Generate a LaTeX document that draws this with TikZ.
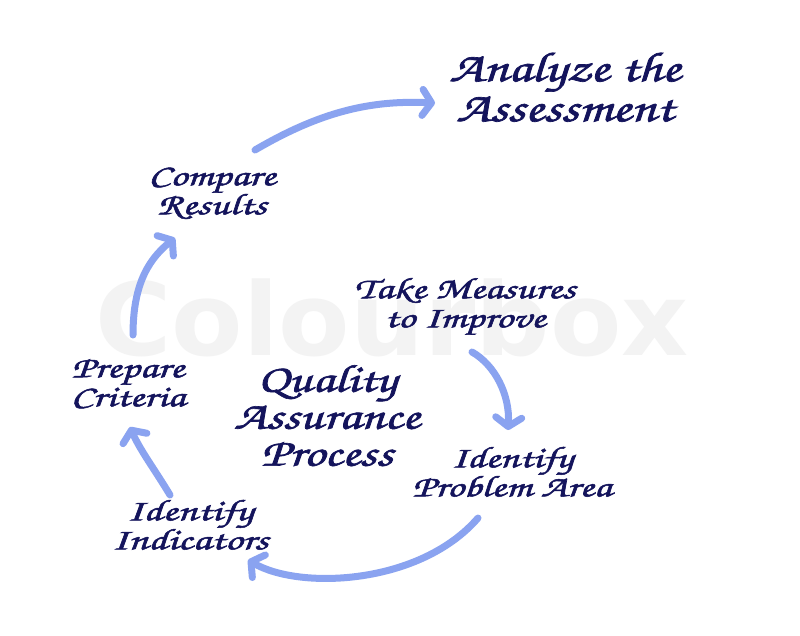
\documentclass[tikz,border=0pt]{standalone}
\usepackage{fontspec}
\setmainfont{TeX Gyre Chorus}[FakeBold=1.6]
\newfontfamily\wmfont{DejaVu Sans}
\usetikzlibrary{arrows.meta}
\definecolor{navy}{RGB}{20,20,92}
\definecolor{peri}{RGB}{138,163,240}
\definecolor{wmgray}{RGB}{243,243,243}
\newcommand{\stretchtxt}[2]{\scalebox{#1}[1]{\begin{tabular}{@{}c@{}}#2\end{tabular}}}
\begin{document}
\begin{tikzpicture}[x=1pt,y=-1pt,
  lbl/.style={text=navy, inner sep=0pt, font=\fontsize{30}{29}\selectfont},
  biglbl/.style={text=navy, inner sep=0pt, font=\fontsize{39}{37}\selectfont},
  toplbl/.style={text=navy, inner sep=0pt, font=\fontsize{42}{40}\selectfont},
  flow/.style={draw=peri, line width=7pt, line cap=round, line join=round,
    -{Straight Barb[length=9pt,width=26pt,round]}}]
\useasboundingbox (0,0) rectangle (800,635);
\fill[white] (0,0) rectangle (800,635);
% watermark
\node[text=wmgray, inner sep=0pt] (wm) at (392,318)
  {\scalebox{1.03}[1]{\wmfont\bfseries\fontsize{101}{101}\selectfont Colourbox}};
% labels
\node[toplbl] (ana) at (565,93) {\stretchtxt{1.3}{Analyze the\\Assessment}};
\node[lbl] (cmp) at (212,194) {\stretchtxt{1.4}{Compare\\Results}};
\node[lbl] (tak) at (465,307) {\stretchtxt{1.4}{Take Measures\\to Improve}};
\node[lbl] (pre) at (128,386) {\stretchtxt{1.4}{Prepare\\Criteria}};
\node[biglbl] (qap) at (327,421) {\stretchtxt{1.33}{Quality\\Assurance\\Process}};
\node[lbl] (idp) at (512,476) {\stretchtxt{1.4}{Identify\\Problem Area}};
\node[lbl] (idi) at (190,529) {\stretchtxt{1.45}{Identify\\Indicators}};
% arrow end points
\coordinate (a1s) at (255,150); \coordinate (a1e) at (435,103);
\coordinate (a2s) at (133,335); \coordinate (a2e) at (175,238);
\coordinate (a3s) at (170,495); \coordinate (a3e) at (130,427);
\coordinate (a4s) at (478,518); \coordinate (a4e) at (248,560);
\coordinate (a5s) at (472,352); \coordinate (a5e) at (508,430);
% arrows
\draw[flow] (a1s) .. controls (320,112) and (370,100) .. (a1e);
\draw[flow] (a2s) .. controls (133,290) and (145,262) .. (a2e);
\draw[flow] (a3s) .. controls (155,470) and (140,450) .. (a3e);
\draw[flow] (a4s) .. controls (420,585) and (300,590) .. (a4e);
\draw[flow] (a5s) .. controls (495,365) and (510,395) .. (a5e);
\end{tikzpicture}
\end{document}
